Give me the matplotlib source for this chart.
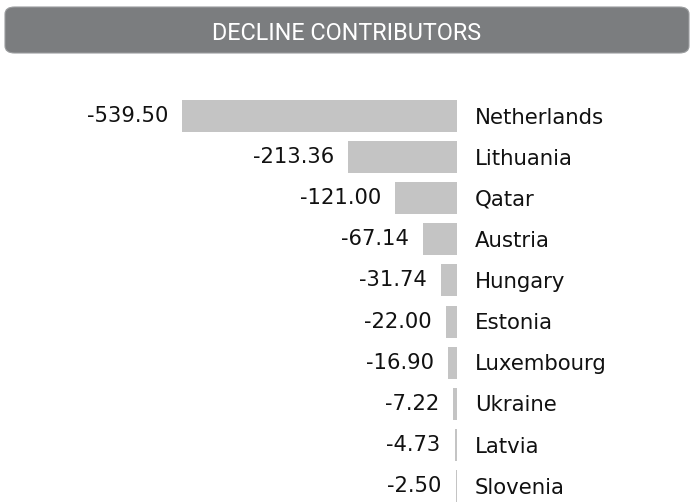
import matplotlib
matplotlib.use("Agg")
import matplotlib.pyplot as plt
from matplotlib.patches import FancyBboxPatch

countries = ["Netherlands", "Lithuania", "Qatar", "Austria", "Hungary",
             "Estonia", "Luxembourg", "Ukraine", "Latvia", "Slovenia"]
changes = [-539.50, -213.36, -121.00, -67.14, -31.74,
           -22.00, -16.90, -7.22, -4.73, -2.50]
title = "DECLINE CONTRIBUTORS"

W, H, DPI = 691, 504, 100
fig = plt.figure(figsize=(W / DPI, H / DPI), dpi=DPI)
fig.patch.set_facecolor("white")

# header band
hdr = FancyBboxPatch((5 / W, 1 - 53 / H), 684 / W, 46 / H,
                     boxstyle="round,pad=0,rounding_size=0.014",
                     transform=fig.transFigure, facecolor="#7b7d7f",
                     edgecolor="#9a9c9e", linewidth=0.8)
fig.patches.append(hdr)
fig.text(347 / W, 1 - 31 / H, title, ha="center", va="center_baseline",
         color="white", fontsize=16.8, family="Roboto")

# bars: zero line at x=457px, 0.5097 px per unit; rows every 41.1px from y=116
px_per_unit = 0.5097
zero_px = 457
row0, step = 116, 370 / 9
ax = fig.add_axes([0, 0, 1, 1])
ax.set_xlim(-zero_px / px_per_unit, (W - zero_px) / px_per_unit)
ax.set_ylim((H - row0) / step, -row0 / step)
ax.axis("off")

ys = list(range(len(countries)))
ax.barh(ys, changes, height=32 / step, color="#c4c4c4", linewidth=0)
for y, v, name in zip(ys, changes, countries):
    ax.annotate(f"{v:.2f}", (v, y), xytext=(-10, 0), textcoords="offset points",
                ha="right", va="center", fontsize=15.2, color="#111111")
    ax.annotate(name, (0, y), xytext=(13, -1.2), textcoords="offset points",
                ha="left", va="center", fontsize=15.3, color="#111111")

fig.savefig("out.png", dpi=DPI)
